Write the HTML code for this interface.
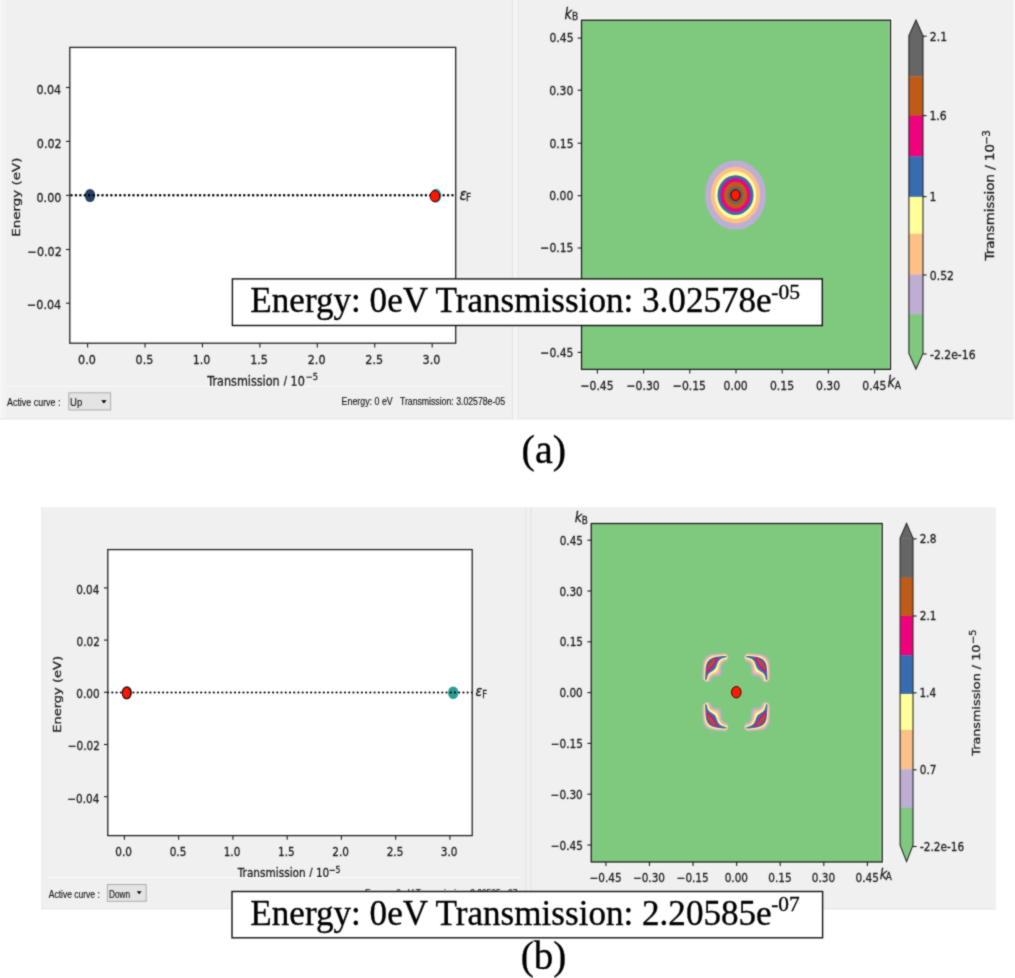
<!DOCTYPE html>
<html><head><meta charset="utf-8"><title>Transmission</title>
<style>html,body{margin:0;padding:0;background:#fff;}svg{display:block;}</style></head>
<body><svg width="1015" height="978" viewBox="0 0 1015 978">
<defs><filter id="soft" x="0" y="0" width="1015" height="978" filterUnits="userSpaceOnUse" color-interpolation-filters="sRGB"><feConvolveMatrix order="3" kernelMatrix="1 2 1 2 12 2 1 2 1" divisor="24" edgeMode="duplicate" preserveAlpha="true"/></filter></defs>
<g filter="url(#soft)">
<rect x="0" y="0" width="1015" height="978" fill="#ffffff"/>
<rect x="0.00" y="0.00" width="1014.00" height="419.30" fill="#f0f0f0"/>
<rect x="0.00" y="0.00" width="1.20" height="419.30" fill="#f8f8f8"/>
<rect x="1.00" y="0.00" width="4.00" height="419.30" fill="#f3f3f3"/>
<line x1="0.00" y1="418.80" x2="1014.00" y2="418.80" stroke="#e4e4e4" stroke-width="1"/>
<line x1="512.40" y1="0.00" x2="512.40" y2="419.30" stroke="#e2e2e2" stroke-width="1"/>
<line x1="518.10" y1="0.00" x2="518.10" y2="419.30" stroke="#e2e2e2" stroke-width="1"/>
<rect x="513.00" y="0.00" width="4.60" height="419.30" fill="#f4f4f4"/>
<rect x="69.80" y="47.40" width="385.90" height="295.80" fill="#ffffff"/>
<line x1="66.00" y1="87.50" x2="69.80" y2="87.50" stroke="#1c1c1c" stroke-width="1.1"/>
<text transform="translate(36.38 93.75) scale(0.8720 1)" font-family="DejaVu Sans, sans-serif" font-style="normal" font-weight="normal" font-size="12.80" fill="#1c1c1c" stroke="#1c1c1c" stroke-width="0.3">0.04</text>
<line x1="66.00" y1="141.40" x2="69.80" y2="141.40" stroke="#1c1c1c" stroke-width="1.1"/>
<text transform="translate(36.83 147.65) scale(0.8720 1)" font-family="DejaVu Sans, sans-serif" font-style="normal" font-weight="normal" font-size="12.80" fill="#1c1c1c" stroke="#1c1c1c" stroke-width="0.3">0.02</text>
<line x1="66.00" y1="195.40" x2="69.80" y2="195.40" stroke="#1c1c1c" stroke-width="1.1"/>
<text transform="translate(36.49 201.65) scale(0.8720 1)" font-family="DejaVu Sans, sans-serif" font-style="normal" font-weight="normal" font-size="12.80" fill="#1c1c1c" stroke="#1c1c1c" stroke-width="0.3">0.00</text>
<line x1="66.00" y1="249.50" x2="69.80" y2="249.50" stroke="#1c1c1c" stroke-width="1.1"/>
<text transform="translate(27.56 255.75) scale(0.8720 1)" font-family="DejaVu Sans, sans-serif" font-style="normal" font-weight="normal" font-size="12.80" fill="#1c1c1c" stroke="#1c1c1c" stroke-width="0.3">−0.02</text>
<line x1="66.00" y1="303.20" x2="69.80" y2="303.20" stroke="#1c1c1c" stroke-width="1.1"/>
<text transform="translate(27.00 309.45) scale(0.8720 1)" font-family="DejaVu Sans, sans-serif" font-style="normal" font-weight="normal" font-size="12.80" fill="#1c1c1c" stroke="#1c1c1c" stroke-width="0.3">−0.04</text>
<line x1="87.60" y1="343.20" x2="87.60" y2="347.40" stroke="#1c1c1c" stroke-width="1.1"/>
<text transform="translate(78.03 363.80) scale(0.8720 1)" font-family="DejaVu Sans, sans-serif" font-style="normal" font-weight="normal" font-size="12.80" fill="#1c1c1c" stroke="#1c1c1c" stroke-width="0.3">0.0</text>
<line x1="145.03" y1="343.20" x2="145.03" y2="347.40" stroke="#1c1c1c" stroke-width="1.1"/>
<text transform="translate(135.57 363.80) scale(0.8720 1)" font-family="DejaVu Sans, sans-serif" font-style="normal" font-weight="normal" font-size="12.80" fill="#1c1c1c" stroke="#1c1c1c" stroke-width="0.3">0.5</text>
<line x1="202.46" y1="343.20" x2="202.46" y2="347.40" stroke="#1c1c1c" stroke-width="1.1"/>
<text transform="translate(192.66 363.80) scale(0.8720 1)" font-family="DejaVu Sans, sans-serif" font-style="normal" font-weight="normal" font-size="12.80" fill="#1c1c1c" stroke="#1c1c1c" stroke-width="0.3">1.0</text>
<line x1="259.89" y1="343.20" x2="259.89" y2="347.40" stroke="#1c1c1c" stroke-width="1.1"/>
<text transform="translate(250.20 363.54) scale(0.8720 1)" font-family="DejaVu Sans, sans-serif" font-style="normal" font-weight="normal" font-size="12.80" fill="#1c1c1c" stroke="#1c1c1c" stroke-width="0.3">1.5</text>
<line x1="317.32" y1="343.20" x2="317.32" y2="347.40" stroke="#1c1c1c" stroke-width="1.1"/>
<text transform="translate(307.75 363.80) scale(0.8720 1)" font-family="DejaVu Sans, sans-serif" font-style="normal" font-weight="normal" font-size="12.80" fill="#1c1c1c" stroke="#1c1c1c" stroke-width="0.3">2.0</text>
<line x1="374.75" y1="343.20" x2="374.75" y2="347.40" stroke="#1c1c1c" stroke-width="1.1"/>
<text transform="translate(365.29 363.67) scale(0.8720 1)" font-family="DejaVu Sans, sans-serif" font-style="normal" font-weight="normal" font-size="12.80" fill="#1c1c1c" stroke="#1c1c1c" stroke-width="0.3">2.5</text>
<line x1="432.18" y1="343.20" x2="432.18" y2="347.40" stroke="#1c1c1c" stroke-width="1.1"/>
<text transform="translate(422.55 363.80) scale(0.8720 1)" font-family="DejaVu Sans, sans-serif" font-style="normal" font-weight="normal" font-size="12.80" fill="#1c1c1c" stroke="#1c1c1c" stroke-width="0.3">3.0</text>
<ellipse cx="90.00" cy="195.50" rx="5.20" ry="6.60" fill="#263f63"/>
<ellipse cx="436.00" cy="195.70" rx="5.30" ry="6.90" fill="#2a9d99"/>
<line x1="71.50" y1="195.30" x2="455.70" y2="195.30" stroke="#000" stroke-width="2.5" stroke-linecap="round" stroke-dasharray="0 4.43"/>
<ellipse cx="434.90" cy="196.20" rx="4.80" ry="5.60" fill="#ff1500" stroke="#3a0000" stroke-width="1.0"/>
<rect x="69.80" y="47.40" width="385.90" height="295.80" fill="none" stroke="#222" stroke-width="1.3"/>
<text transform="translate(459.46 199.76) scale(0.8720 1)" font-family="DejaVu Sans, sans-serif" font-style="italic" font-weight="normal" font-size="15.36" fill="#1c1c1c" stroke="#1c1c1c" stroke-width="0.3">ε</text>
<text transform="translate(465.96 200.90) scale(0.8720 1)" font-family="DejaVu Sans, sans-serif" font-style="normal" font-weight="normal" font-size="10.24" fill="#1c1c1c" stroke="#1c1c1c" stroke-width="0.3">F</text>
<text transform="translate(207.30 385.83) scale(0.8333 1)" font-family="DejaVu Sans, sans-serif" font-style="normal" font-weight="normal" font-size="13.47" fill="#1c1c1c" stroke="#1c1c1c" stroke-width="0.3">Transmission / 10</text>
<text transform="translate(305.77 380.21) scale(0.8720 1)" font-family="DejaVu Sans, sans-serif" font-style="normal" font-weight="normal" font-size="9.47" fill="#1c1c1c" stroke="#1c1c1c" stroke-width="0.3">−5</text>
<rect x="5.00" y="386.20" width="505.00" height="32.10" fill="#f0f0f0"/>
<text transform="translate(20.00 236.74) rotate(-90) scale(1.1925 1)" font-family="DejaVu Sans, sans-serif" font-style="normal" font-size="11.26" fill="#1c1c1c" stroke="#1c1c1c" stroke-width="0.3">Energy (eV)</text>
<line x1="6.40" y1="386.30" x2="504.80" y2="386.30" stroke="#fbfbfb" stroke-width="1.0"/>
<text transform="translate(7.00 406.19) scale(0.8353 1)" font-family="Liberation Sans, sans-serif" font-style="normal" font-weight="normal" font-size="10.68" fill="#141414" stroke="#141414" stroke-width="0.15">Active curve :</text>
<rect x="68.80" y="392.80" width="41.80" height="17.20" fill="#e4e4e4" stroke="#adadad" stroke-width="1"/>
<text transform="translate(70.04 406.10) scale(0.8467 1)" font-family="Liberation Sans, sans-serif" font-style="normal" font-weight="normal" font-size="11.20" fill="#141414" stroke="#141414" stroke-width="0.15">Up</text>
<path d="M101.2 400.2 L106.6 400.2 L103.9 403.4 Z" fill="#000"/>
<text transform="translate(341.59 405.10) scale(0.8054 1)" font-family="Liberation Sans, sans-serif" font-style="normal" font-weight="normal" font-size="11.00" fill="#141414" stroke="#141414" stroke-width="0.15">Energy: 0 eV</text>
<text transform="translate(399.93 405.43) scale(0.7919 1)" font-family="Liberation Sans, sans-serif" font-style="normal" font-weight="normal" font-size="11.00" fill="#141414" stroke="#141414" stroke-width="0.15">Transmission: 3.02578e-05</text>
<rect x="581.50" y="20.20" width="309.00" height="349.20" fill="#7fc97f"/>
<ellipse cx="735.50" cy="195.10" rx="30.40" ry="34.70" fill="#beaed4"/>
<ellipse cx="735.50" cy="195.10" rx="24.70" ry="28.30" fill="#fdc086"/>
<ellipse cx="735.50" cy="195.10" rx="20.80" ry="23.80" fill="#ffff99"/>
<ellipse cx="735.50" cy="195.10" rx="18.00" ry="19.80" fill="#386cb0"/>
<ellipse cx="735.50" cy="195.10" rx="15.00" ry="16.90" fill="#f0027f"/>
<ellipse cx="735.50" cy="195.10" rx="11.70" ry="13.30" fill="#bf5b17"/>
<ellipse cx="735.50" cy="195.10" rx="7.80" ry="8.90" fill="#666666"/>
<ellipse cx="735.50" cy="195.10" rx="4.70" ry="5.40" fill="#ff1a00" stroke="#400000" stroke-width="1.0"/>
<rect x="889.05" y="20.80" width="0.80" height="348.00" fill="#d9e6d9"/>
<rect x="580.00" y="18.60" width="312.20" height="352.10" fill="none" stroke="#ffffff" stroke-width="0.9" opacity="0.75"/>
<rect x="581.50" y="20.20" width="309.00" height="349.20" fill="none" stroke="#1e1e1e" stroke-width="1.3"/>
<line x1="577.70" y1="38.10" x2="581.50" y2="38.10" stroke="#1c1c1c" stroke-width="1.1"/>
<text transform="translate(549.41 42.45) scale(0.8600 1)" font-family="DejaVu Sans, sans-serif" font-style="normal" font-weight="normal" font-size="12.60" fill="#1c1c1c" stroke="#1c1c1c" stroke-width="0.3">0.45</text>
<line x1="577.70" y1="90.20" x2="581.50" y2="90.20" stroke="#1c1c1c" stroke-width="1.1"/>
<text transform="translate(549.19 94.55) scale(0.8600 1)" font-family="DejaVu Sans, sans-serif" font-style="normal" font-weight="normal" font-size="12.60" fill="#1c1c1c" stroke="#1c1c1c" stroke-width="0.3">0.30</text>
<line x1="577.70" y1="143.20" x2="581.50" y2="143.20" stroke="#1c1c1c" stroke-width="1.1"/>
<text transform="translate(549.41 147.55) scale(0.8600 1)" font-family="DejaVu Sans, sans-serif" font-style="normal" font-weight="normal" font-size="12.60" fill="#1c1c1c" stroke="#1c1c1c" stroke-width="0.3">0.15</text>
<line x1="577.70" y1="195.70" x2="581.50" y2="195.70" stroke="#1c1c1c" stroke-width="1.1"/>
<text transform="translate(549.19 200.05) scale(0.8600 1)" font-family="DejaVu Sans, sans-serif" font-style="normal" font-weight="normal" font-size="12.60" fill="#1c1c1c" stroke="#1c1c1c" stroke-width="0.3">0.00</text>
<line x1="577.70" y1="248.00" x2="581.50" y2="248.00" stroke="#1c1c1c" stroke-width="1.1"/>
<text transform="translate(540.31 252.35) scale(0.8600 1)" font-family="DejaVu Sans, sans-serif" font-style="normal" font-weight="normal" font-size="12.60" fill="#1c1c1c" stroke="#1c1c1c" stroke-width="0.3">−0.15</text>
<line x1="577.70" y1="300.20" x2="581.50" y2="300.20" stroke="#1c1c1c" stroke-width="1.1"/>
<text transform="translate(540.09 304.55) scale(0.8600 1)" font-family="DejaVu Sans, sans-serif" font-style="normal" font-weight="normal" font-size="12.60" fill="#1c1c1c" stroke="#1c1c1c" stroke-width="0.3">−0.30</text>
<line x1="577.70" y1="352.40" x2="581.50" y2="352.40" stroke="#1c1c1c" stroke-width="1.1"/>
<text transform="translate(540.31 356.75) scale(0.8600 1)" font-family="DejaVu Sans, sans-serif" font-style="normal" font-weight="normal" font-size="12.60" fill="#1c1c1c" stroke="#1c1c1c" stroke-width="0.3">−0.45</text>
<line x1="597.40" y1="369.40" x2="597.40" y2="373.40" stroke="#1c1c1c" stroke-width="1.1"/>
<text transform="translate(580.41 390.05) scale(0.8600 1)" font-family="DejaVu Sans, sans-serif" font-style="normal" font-weight="normal" font-size="12.60" fill="#1c1c1c" stroke="#1c1c1c" stroke-width="0.3">−0.45</text>
<line x1="643.60" y1="369.40" x2="643.60" y2="373.40" stroke="#1c1c1c" stroke-width="1.1"/>
<text transform="translate(626.50 390.05) scale(0.8600 1)" font-family="DejaVu Sans, sans-serif" font-style="normal" font-weight="normal" font-size="12.60" fill="#1c1c1c" stroke="#1c1c1c" stroke-width="0.3">−0.30</text>
<line x1="689.80" y1="369.40" x2="689.80" y2="373.40" stroke="#1c1c1c" stroke-width="1.1"/>
<text transform="translate(672.81 390.05) scale(0.8600 1)" font-family="DejaVu Sans, sans-serif" font-style="normal" font-weight="normal" font-size="12.60" fill="#1c1c1c" stroke="#1c1c1c" stroke-width="0.3">−0.15</text>
<line x1="736.00" y1="369.40" x2="736.00" y2="373.40" stroke="#1c1c1c" stroke-width="1.1"/>
<text transform="translate(723.62 390.05) scale(0.8600 1)" font-family="DejaVu Sans, sans-serif" font-style="normal" font-weight="normal" font-size="12.60" fill="#1c1c1c" stroke="#1c1c1c" stroke-width="0.3">0.00</text>
<line x1="782.20" y1="369.40" x2="782.20" y2="373.40" stroke="#1c1c1c" stroke-width="1.1"/>
<text transform="translate(769.93 390.05) scale(0.8600 1)" font-family="DejaVu Sans, sans-serif" font-style="normal" font-weight="normal" font-size="12.60" fill="#1c1c1c" stroke="#1c1c1c" stroke-width="0.3">0.15</text>
<line x1="828.40" y1="369.40" x2="828.40" y2="373.40" stroke="#1c1c1c" stroke-width="1.1"/>
<text transform="translate(816.02 390.05) scale(0.8600 1)" font-family="DejaVu Sans, sans-serif" font-style="normal" font-weight="normal" font-size="12.60" fill="#1c1c1c" stroke="#1c1c1c" stroke-width="0.3">0.30</text>
<line x1="874.60" y1="369.40" x2="874.60" y2="373.40" stroke="#1c1c1c" stroke-width="1.1"/>
<text transform="translate(862.33 390.05) scale(0.8600 1)" font-family="DejaVu Sans, sans-serif" font-style="normal" font-weight="normal" font-size="12.60" fill="#1c1c1c" stroke="#1c1c1c" stroke-width="0.3">0.45</text>
<text transform="translate(564.48 18.60) scale(0.8600 1)" font-family="DejaVu Sans, sans-serif" font-style="italic" font-weight="normal" font-size="15.12" fill="#1c1c1c" stroke="#1c1c1c" stroke-width="0.3">k</text>
<text transform="translate(572.05 20.20) scale(0.8600 1)" font-family="DejaVu Sans, sans-serif" font-style="normal" font-weight="normal" font-size="10.58" fill="#1c1c1c" stroke="#1c1c1c" stroke-width="0.3">B</text>
<text transform="translate(887.48 387.19) scale(0.8600 1)" font-family="DejaVu Sans, sans-serif" font-style="italic" font-weight="normal" font-size="15.12" fill="#1c1c1c" stroke="#1c1c1c" stroke-width="0.3">k</text>
<text transform="translate(894.80 388.81) scale(0.8600 1)" font-family="DejaVu Sans, sans-serif" font-style="normal" font-weight="normal" font-size="10.58" fill="#1c1c1c" stroke="#1c1c1c" stroke-width="0.3">A</text>
<path d="M908.90 36.30 L915.95 20.00 L923.00 36.30 Z" fill="#666666"/>
<rect x="908.90" y="35.80" width="14.10" height="40.80" fill="#666666"/>
<rect x="908.90" y="76.30" width="14.10" height="39.70" fill="#bf5b17"/>
<rect x="908.90" y="115.70" width="14.10" height="41.00" fill="#f0027f"/>
<rect x="908.90" y="156.40" width="14.10" height="40.70" fill="#386cb0"/>
<rect x="908.90" y="196.80" width="14.10" height="37.20" fill="#ffff99"/>
<rect x="908.90" y="233.70" width="14.10" height="41.20" fill="#fdc086"/>
<rect x="908.90" y="274.60" width="14.10" height="39.80" fill="#beaed4"/>
<rect x="908.90" y="314.10" width="14.10" height="39.30" fill="#7fc97f"/>
<path d="M908.90 352.90 L915.95 369.10 L923.00 352.90 Z" fill="#7fc97f"/>
<path d="M908.90 35.80 L915.95 20.00 L923.00 35.80 L923.00 353.40 L915.95 369.10 L908.90 353.40 Z" fill="none" stroke="#2a2a2a" stroke-width="1.1" stroke-linejoin="miter"/>
<line x1="923.00" y1="36.20" x2="926.60" y2="36.20" stroke="#1c1c1c" stroke-width="1.1"/>
<text transform="translate(929.84 40.72) scale(0.8600 1)" font-family="DejaVu Sans, sans-serif" font-style="normal" font-weight="normal" font-size="12.60" fill="#1c1c1c" stroke="#1c1c1c" stroke-width="0.3">2.1</text>
<line x1="923.00" y1="115.60" x2="926.60" y2="115.60" stroke="#1c1c1c" stroke-width="1.1"/>
<text transform="translate(929.41 120.12) scale(0.8600 1)" font-family="DejaVu Sans, sans-serif" font-style="normal" font-weight="normal" font-size="12.60" fill="#1c1c1c" stroke="#1c1c1c" stroke-width="0.3">1.6</text>
<line x1="923.00" y1="196.60" x2="926.60" y2="196.60" stroke="#1c1c1c" stroke-width="1.1"/>
<text transform="translate(929.41 201.00) scale(0.8600 1)" font-family="DejaVu Sans, sans-serif" font-style="normal" font-weight="normal" font-size="12.60" fill="#1c1c1c" stroke="#1c1c1c" stroke-width="0.3">1</text>
<line x1="923.00" y1="275.00" x2="926.60" y2="275.00" stroke="#1c1c1c" stroke-width="1.1"/>
<text transform="translate(929.84 279.65) scale(0.8600 1)" font-family="DejaVu Sans, sans-serif" font-style="normal" font-weight="normal" font-size="12.60" fill="#1c1c1c" stroke="#1c1c1c" stroke-width="0.3">0.52</text>
<line x1="923.00" y1="354.00" x2="926.60" y2="354.00" stroke="#1c1c1c" stroke-width="1.1"/>
<text transform="translate(930.06 358.52) scale(0.8600 1)" font-family="DejaVu Sans, sans-serif" font-style="normal" font-weight="normal" font-size="12.60" fill="#1c1c1c" stroke="#1c1c1c" stroke-width="0.3">-2.2e-16</text>
<text transform="translate(993.70 260.50) rotate(-90) scale(1.1339 1)" font-family="DejaVu Sans, sans-serif" font-style="normal" font-size="11.80" fill="#1c1c1c" stroke="#1c1c1c" stroke-width="0.3">Transmission / 10</text>
<text transform="translate(990.10 144.69) rotate(-90) scale(0.9922 1)" font-family="DejaVu Sans, sans-serif" font-style="normal" font-size="10.00" fill="#1c1c1c" stroke="#1c1c1c" stroke-width="0.3">−3</text>
<rect x="232.40" y="278.90" width="589.90" height="46.60" fill="#ffffff" stroke="#111" stroke-width="1.4"/>
<text transform="translate(250.35 312.00) scale(0.9795 1)" font-family="Liberation Serif, serif" font-style="normal" font-weight="normal" font-size="35.85" fill="#000" stroke="#000" stroke-width="0.35">Energy: 0eV Transmission: 3.02578e</text>
<text transform="translate(771.24 298.50) scale(0.9963 1)" font-family="Liberation Serif, serif" font-style="normal" font-weight="normal" font-size="21.60" fill="#000" stroke="#000" stroke-width="0.35">-05</text>
<text transform="translate(521.60 462.92) scale(1.0165 1)" font-family="Liberation Serif, serif" font-style="normal" font-weight="normal" font-size="39.44" fill="#000" stroke="#000" stroke-width="0.35">(a)</text>
<rect x="41.50" y="507.20" width="954.50" height="402.10" fill="#f0f0f0"/>
<line x1="41.50" y1="908.80" x2="996.00" y2="908.80" stroke="#e4e4e4" stroke-width="1"/>
<line x1="42.00" y1="507.20" x2="42.00" y2="909.30" stroke="#e6e6e6" stroke-width="1"/>
<line x1="525.80" y1="507.20" x2="525.80" y2="909.30" stroke="#e2e2e2" stroke-width="1"/>
<line x1="531.00" y1="507.20" x2="531.00" y2="909.30" stroke="#e2e2e2" stroke-width="1"/>
<rect x="107.80" y="549.60" width="364.40" height="286.00" fill="#ffffff"/>
<line x1="104.00" y1="587.90" x2="107.80" y2="587.90" stroke="#1c1c1c" stroke-width="1.1"/>
<text transform="translate(76.13 593.75) scale(0.8600 1)" font-family="DejaVu Sans, sans-serif" font-style="normal" font-weight="normal" font-size="12.20" fill="#1c1c1c" stroke="#1c1c1c" stroke-width="0.3">0.04</text>
<line x1="104.00" y1="640.10" x2="107.80" y2="640.10" stroke="#1c1c1c" stroke-width="1.1"/>
<text transform="translate(76.55 645.95) scale(0.8600 1)" font-family="DejaVu Sans, sans-serif" font-style="normal" font-weight="normal" font-size="12.20" fill="#1c1c1c" stroke="#1c1c1c" stroke-width="0.3">0.02</text>
<line x1="104.00" y1="692.30" x2="107.80" y2="692.30" stroke="#1c1c1c" stroke-width="1.1"/>
<text transform="translate(76.24 698.15) scale(0.8600 1)" font-family="DejaVu Sans, sans-serif" font-style="normal" font-weight="normal" font-size="12.20" fill="#1c1c1c" stroke="#1c1c1c" stroke-width="0.3">0.00</text>
<line x1="104.00" y1="744.50" x2="107.80" y2="744.50" stroke="#1c1c1c" stroke-width="1.1"/>
<text transform="translate(67.84 750.35) scale(0.8600 1)" font-family="DejaVu Sans, sans-serif" font-style="normal" font-weight="normal" font-size="12.20" fill="#1c1c1c" stroke="#1c1c1c" stroke-width="0.3">−0.02</text>
<line x1="104.00" y1="796.70" x2="107.80" y2="796.70" stroke="#1c1c1c" stroke-width="1.1"/>
<text transform="translate(67.32 802.55) scale(0.8600 1)" font-family="DejaVu Sans, sans-serif" font-style="normal" font-weight="normal" font-size="12.20" fill="#1c1c1c" stroke="#1c1c1c" stroke-width="0.3">−0.04</text>
<line x1="124.40" y1="835.60" x2="124.40" y2="839.80" stroke="#1c1c1c" stroke-width="1.1"/>
<text transform="translate(115.36 856.45) scale(0.8600 1)" font-family="DejaVu Sans, sans-serif" font-style="normal" font-weight="normal" font-size="12.20" fill="#1c1c1c" stroke="#1c1c1c" stroke-width="0.3">0.0</text>
<line x1="178.65" y1="835.60" x2="178.65" y2="839.80" stroke="#1c1c1c" stroke-width="1.1"/>
<text transform="translate(169.71 856.45) scale(0.8600 1)" font-family="DejaVu Sans, sans-serif" font-style="normal" font-weight="normal" font-size="12.20" fill="#1c1c1c" stroke="#1c1c1c" stroke-width="0.3">0.5</text>
<line x1="232.90" y1="835.60" x2="232.90" y2="839.80" stroke="#1c1c1c" stroke-width="1.1"/>
<text transform="translate(223.65 856.45) scale(0.8600 1)" font-family="DejaVu Sans, sans-serif" font-style="normal" font-weight="normal" font-size="12.20" fill="#1c1c1c" stroke="#1c1c1c" stroke-width="0.3">1.0</text>
<line x1="287.15" y1="835.60" x2="287.15" y2="839.80" stroke="#1c1c1c" stroke-width="1.1"/>
<text transform="translate(278.00 856.21) scale(0.8600 1)" font-family="DejaVu Sans, sans-serif" font-style="normal" font-weight="normal" font-size="12.20" fill="#1c1c1c" stroke="#1c1c1c" stroke-width="0.3">1.5</text>
<line x1="341.40" y1="835.60" x2="341.40" y2="839.80" stroke="#1c1c1c" stroke-width="1.1"/>
<text transform="translate(332.36 856.45) scale(0.8600 1)" font-family="DejaVu Sans, sans-serif" font-style="normal" font-weight="normal" font-size="12.20" fill="#1c1c1c" stroke="#1c1c1c" stroke-width="0.3">2.0</text>
<line x1="395.65" y1="835.60" x2="395.65" y2="839.80" stroke="#1c1c1c" stroke-width="1.1"/>
<text transform="translate(386.71 856.33) scale(0.8600 1)" font-family="DejaVu Sans, sans-serif" font-style="normal" font-weight="normal" font-size="12.20" fill="#1c1c1c" stroke="#1c1c1c" stroke-width="0.3">2.5</text>
<line x1="449.90" y1="835.60" x2="449.90" y2="839.80" stroke="#1c1c1c" stroke-width="1.1"/>
<text transform="translate(440.81 856.45) scale(0.8600 1)" font-family="DejaVu Sans, sans-serif" font-style="normal" font-weight="normal" font-size="12.20" fill="#1c1c1c" stroke="#1c1c1c" stroke-width="0.3">3.0</text>
<ellipse cx="126.90" cy="692.70" rx="5.00" ry="6.50" fill="#263f63"/>
<ellipse cx="453.20" cy="692.80" rx="5.25" ry="6.30" fill="#2a9d99"/>
<line x1="108.10" y1="692.50" x2="472.20" y2="692.50" stroke="#000" stroke-width="2.2" stroke-linecap="round" stroke-dasharray="0 4.23"/>
<ellipse cx="126.60" cy="693.00" rx="4.30" ry="5.80" fill="#ff1500" stroke="#2a0505" stroke-width="1.1"/>
<rect x="107.80" y="549.60" width="364.40" height="286.00" fill="none" stroke="#222" stroke-width="1.3"/>
<text transform="translate(475.50 696.34) scale(0.8600 1)" font-family="DejaVu Sans, sans-serif" font-style="italic" font-weight="normal" font-size="14.64" fill="#1c1c1c" stroke="#1c1c1c" stroke-width="0.3">ε</text>
<text transform="translate(482.24 698.10) scale(0.8600 1)" font-family="DejaVu Sans, sans-serif" font-style="normal" font-weight="normal" font-size="9.76" fill="#1c1c1c" stroke="#1c1c1c" stroke-width="0.3">F</text>
<text transform="translate(237.70 877.12) scale(0.8521 1)" font-family="DejaVu Sans, sans-serif" font-style="normal" font-weight="normal" font-size="12.36" fill="#1c1c1c" stroke="#1c1c1c" stroke-width="0.3">Transmission / 10</text>
<text transform="translate(329.12 873.09) scale(0.8600 1)" font-family="DejaVu Sans, sans-serif" font-style="normal" font-weight="normal" font-size="9.03" fill="#1c1c1c" stroke="#1c1c1c" stroke-width="0.3">−5</text>
<rect x="42.50" y="877.60" width="479.50" height="30.70" fill="#f0f0f0"/>
<text transform="translate(61.00 732.80) rotate(-90) scale(1.2153 1)" font-family="DejaVu Sans, sans-serif" font-style="normal" font-size="10.74" fill="#1c1c1c" stroke="#1c1c1c" stroke-width="0.3">Energy (eV)</text>
<line x1="48.30" y1="877.60" x2="519.50" y2="877.60" stroke="#fbfbfb" stroke-width="1.0"/>
<text transform="translate(48.70 897.59) scale(0.7791 1)" font-family="Liberation Sans, sans-serif" font-style="normal" font-weight="normal" font-size="10.95" fill="#141414" stroke="#141414" stroke-width="0.15">Active curve :</text>
<rect x="107.40" y="884.50" width="38.80" height="16.80" fill="#e4e4e4" stroke="#adadad" stroke-width="1"/>
<text transform="translate(108.94 897.70) scale(0.7507 1)" font-family="Liberation Sans, sans-serif" font-style="normal" font-weight="normal" font-size="11.00" fill="#141414" stroke="#141414" stroke-width="0.15">Down</text>
<path d="M136.8 891.2 L141.6 891.2 L139.2 894.2 Z" fill="#000"/>
<text transform="translate(364.93 897.14) scale(0.7954 1)" font-family="Liberation Sans, sans-serif" font-style="normal" font-weight="normal" font-size="10.60" fill="#141414" stroke="#141414" stroke-width="0.15">Energy: 0 eV   Transmission: 2.20585e-07</text>
<rect x="591.20" y="523.50" width="291.00" height="338.50" fill="#7fc97f"/>
<g transform="translate(736.3 692.2) scale(1 1)"><path d="M-15.2 -39.0 L-12.0 -39.2 L-11.2 -39.1 L-10.6 -38.9 L-10.0 -38.5 L-9.4 -37.9 L-8.5 -36.6 L-8.1 -35.8 L-8.2 -33.0 L-8.4 -32.2 L-8.6 -31.6 L-9.2 -31.1 L-11.4 -30.2 L-12.6 -29.5 L-13.6 -28.4 L-14.4 -27.0 L-14.8 -25.8 L-15.0 -24.4 L-15.1 -22.6 L-15.2 -19.0 L-15.3 -18.0 L-15.5 -17.4 L-16.0 -16.8 L-16.8 -16.4 L-21.4 -15.9 L-22.6 -15.5 L-23.6 -15.0 L-24.3 -14.4 L-25.0 -13.6 L-25.5 -12.6 L-26.0 -10.8 L-26.4 -10.4 L-26.6 -10.3 L-27.2 -10.1 L-28.2 -10.1 L-30.6 -10.3 L-30.8 -10.4 L-32.1 -11.4 L-33.2 -12.4 L-33.7 -13.2 L-33.9 -14.2 L-33.7 -24.8 L-33.5 -27.6 L-33.3 -29.2 L-32.9 -30.8 L-32.5 -32.0 L-32.0 -33.2 L-31.0 -34.6 L-29.8 -35.8 L-28.4 -36.7 L-26.6 -37.5 L-25.0 -37.9 L-22.8 -38.3 Z" fill="#beaed4"/><path d="M-21.4 -37.3 L-12.0 -38.1 L-11.0 -38.1 L-10.2 -37.8 L-9.4 -37.2 L-8.4 -35.8 L-8.6 -34.0 L-9.0 -33.0 L-9.6 -32.5 L-11.7 -31.8 L-13.0 -31.2 L-14.2 -30.3 L-15.1 -29.2 L-15.8 -27.9 L-16.3 -26.4 L-17.2 -20.6 L-17.5 -19.8 L-18.0 -19.1 L-18.6 -18.7 L-19.2 -18.4 L-22.2 -17.6 L-23.3 -17.2 L-24.2 -16.8 L-25.0 -16.2 L-25.8 -15.4 L-26.4 -14.5 L-26.8 -13.4 L-27.4 -11.4 L-27.8 -10.9 L-28.2 -10.7 L-29.0 -10.6 L-30.6 -10.7 L-30.8 -10.8 L-31.8 -11.6 L-32.5 -12.4 L-32.8 -13.2 L-32.9 -14.4 L-32.6 -24.0 L-32.4 -27.0 L-32.1 -28.6 L-31.7 -30.0 L-31.3 -31.2 L-30.6 -32.4 L-29.6 -33.8 L-28.5 -34.8 L-27.0 -35.7 L-25.4 -36.4 L-23.6 -36.9 Z" fill="#fdc086"/><path d="M-19.6 -36.5 L-11.4 -37.2 L-10.6 -37.2 L-10.0 -36.9 L-9.4 -36.5 L-8.8 -35.8 L-9.0 -34.9 L-9.3 -34.2 L-9.6 -33.9 L-10.0 -33.7 L-12.4 -33.0 L-13.6 -32.5 L-14.7 -31.8 L-15.6 -31.0 L-16.5 -29.8 L-17.2 -28.4 L-17.8 -26.7 L-18.7 -23.0 L-19.0 -22.2 L-19.5 -21.4 L-20.0 -20.8 L-20.8 -20.2 L-24.4 -18.6 L-25.2 -18.1 L-26.0 -17.5 L-26.8 -16.6 L-27.5 -15.4 L-28.0 -14.2 L-28.5 -12.2 L-28.7 -11.6 L-29.0 -11.3 L-29.4 -11.2 L-30.6 -11.0 L-31.2 -11.6 L-31.7 -12.2 L-31.9 -12.8 L-32.0 -13.4 L-31.7 -23.2 L-31.4 -26.0 L-31.0 -28.4 L-30.3 -30.2 L-29.4 -31.8 L-28.4 -33.0 L-27.2 -34.0 L-25.8 -34.9 L-24.0 -35.6 L-22.0 -36.1 Z" fill="#ffff99"/><path d="M-13.4 -36.2 L-10.8 -36.3 L-10.0 -36.2 L-9.4 -35.8 L-9.8 -35.2 L-10.2 -35.0 L-13.2 -34.1 L-15.0 -33.4 L-16.2 -32.6 L-17.2 -31.6 L-18.0 -30.6 L-18.6 -29.4 L-20.3 -25.0 L-21.0 -23.6 L-21.6 -22.9 L-22.3 -22.2 L-26.0 -19.8 L-26.8 -19.2 L-27.6 -18.3 L-28.3 -17.2 L-28.8 -16.0 L-29.8 -12.2 L-30.1 -11.8 L-30.6 -11.6 L-31.0 -12.4 L-31.2 -13.6 L-30.8 -21.0 L-30.6 -24.0 L-30.3 -26.0 L-29.9 -27.8 L-29.3 -29.4 L-28.5 -30.8 L-27.5 -32.0 L-26.4 -33.0 L-25.0 -33.8 L-23.4 -34.5 L-21.4 -35.1 L-19.4 -35.5 Z" fill="#386cb0"/><path d="M-16.3 -34.8 L-16.0 -34.8 L-15.9 -34.8 L-16.2 -34.7 Z M-17.6 -34.6 L-16.4 -34.7 L-16.3 -34.6 L-17.8 -33.6 L-19.2 -32.2 L-20.4 -30.6 L-22.2 -27.0 L-23.2 -25.5 L-24.3 -24.2 L-27.0 -21.9 L-28.0 -20.9 L-29.0 -19.6 L-29.8 -18.0 L-29.9 -18.6 L-29.8 -21.4 L-29.5 -23.6 L-29.2 -25.2 L-28.9 -26.6 L-28.5 -27.8 L-27.9 -29.0 L-27.2 -30.0 L-26.4 -31.0 L-25.6 -31.7 L-24.6 -32.4 L-23.6 -32.9 L-21.0 -33.9 Z" fill="#f0027f"/><path d="M-22.4 -32.5 L-20.2 -33.3 L-20.0 -33.2 L-21.5 -31.4 L-23.5 -28.0 L-24.4 -26.8 L-25.4 -25.6 L-27.8 -23.2 L-29.0 -21.8 L-29.0 -22.0 L-28.8 -23.8 L-28.2 -26.0 L-27.5 -27.8 L-26.6 -29.4 L-25.4 -30.7 L-24.0 -31.7 Z" fill="#bf5b17"/><path d="M-22.2 -32.1 L-22.1 -32.0 L-25.0 -27.7 L-26.1 -26.4 L-28.2 -24.1 L-28.0 -25.0 L-27.5 -26.6 L-26.9 -27.8 L-26.2 -29.0 L-25.3 -30.0 L-24.4 -30.8 L-23.4 -31.5 Z" fill="#666666"/></g>
<g transform="translate(736.3 692.2) scale(-1 1)"><path d="M-15.2 -39.0 L-12.0 -39.2 L-11.2 -39.1 L-10.6 -38.9 L-10.0 -38.5 L-9.4 -37.9 L-8.5 -36.6 L-8.1 -35.8 L-8.2 -33.0 L-8.4 -32.2 L-8.6 -31.6 L-9.2 -31.1 L-11.4 -30.2 L-12.6 -29.5 L-13.6 -28.4 L-14.4 -27.0 L-14.8 -25.8 L-15.0 -24.4 L-15.1 -22.6 L-15.2 -19.0 L-15.3 -18.0 L-15.5 -17.4 L-16.0 -16.8 L-16.8 -16.4 L-21.4 -15.9 L-22.6 -15.5 L-23.6 -15.0 L-24.3 -14.4 L-25.0 -13.6 L-25.5 -12.6 L-26.0 -10.8 L-26.4 -10.4 L-26.6 -10.3 L-27.2 -10.1 L-28.2 -10.1 L-30.6 -10.3 L-30.8 -10.4 L-32.1 -11.4 L-33.2 -12.4 L-33.7 -13.2 L-33.9 -14.2 L-33.7 -24.8 L-33.5 -27.6 L-33.3 -29.2 L-32.9 -30.8 L-32.5 -32.0 L-32.0 -33.2 L-31.0 -34.6 L-29.8 -35.8 L-28.4 -36.7 L-26.6 -37.5 L-25.0 -37.9 L-22.8 -38.3 Z" fill="#beaed4"/><path d="M-21.4 -37.3 L-12.0 -38.1 L-11.0 -38.1 L-10.2 -37.8 L-9.4 -37.2 L-8.4 -35.8 L-8.6 -34.0 L-9.0 -33.0 L-9.6 -32.5 L-11.7 -31.8 L-13.0 -31.2 L-14.2 -30.3 L-15.1 -29.2 L-15.8 -27.9 L-16.3 -26.4 L-17.2 -20.6 L-17.5 -19.8 L-18.0 -19.1 L-18.6 -18.7 L-19.2 -18.4 L-22.2 -17.6 L-23.3 -17.2 L-24.2 -16.8 L-25.0 -16.2 L-25.8 -15.4 L-26.4 -14.5 L-26.8 -13.4 L-27.4 -11.4 L-27.8 -10.9 L-28.2 -10.7 L-29.0 -10.6 L-30.6 -10.7 L-30.8 -10.8 L-31.8 -11.6 L-32.5 -12.4 L-32.8 -13.2 L-32.9 -14.4 L-32.6 -24.0 L-32.4 -27.0 L-32.1 -28.6 L-31.7 -30.0 L-31.3 -31.2 L-30.6 -32.4 L-29.6 -33.8 L-28.5 -34.8 L-27.0 -35.7 L-25.4 -36.4 L-23.6 -36.9 Z" fill="#fdc086"/><path d="M-19.6 -36.5 L-11.4 -37.2 L-10.6 -37.2 L-10.0 -36.9 L-9.4 -36.5 L-8.8 -35.8 L-9.0 -34.9 L-9.3 -34.2 L-9.6 -33.9 L-10.0 -33.7 L-12.4 -33.0 L-13.6 -32.5 L-14.7 -31.8 L-15.6 -31.0 L-16.5 -29.8 L-17.2 -28.4 L-17.8 -26.7 L-18.7 -23.0 L-19.0 -22.2 L-19.5 -21.4 L-20.0 -20.8 L-20.8 -20.2 L-24.4 -18.6 L-25.2 -18.1 L-26.0 -17.5 L-26.8 -16.6 L-27.5 -15.4 L-28.0 -14.2 L-28.5 -12.2 L-28.7 -11.6 L-29.0 -11.3 L-29.4 -11.2 L-30.6 -11.0 L-31.2 -11.6 L-31.7 -12.2 L-31.9 -12.8 L-32.0 -13.4 L-31.7 -23.2 L-31.4 -26.0 L-31.0 -28.4 L-30.3 -30.2 L-29.4 -31.8 L-28.4 -33.0 L-27.2 -34.0 L-25.8 -34.9 L-24.0 -35.6 L-22.0 -36.1 Z" fill="#ffff99"/><path d="M-13.4 -36.2 L-10.8 -36.3 L-10.0 -36.2 L-9.4 -35.8 L-9.8 -35.2 L-10.2 -35.0 L-13.2 -34.1 L-15.0 -33.4 L-16.2 -32.6 L-17.2 -31.6 L-18.0 -30.6 L-18.6 -29.4 L-20.3 -25.0 L-21.0 -23.6 L-21.6 -22.9 L-22.3 -22.2 L-26.0 -19.8 L-26.8 -19.2 L-27.6 -18.3 L-28.3 -17.2 L-28.8 -16.0 L-29.8 -12.2 L-30.1 -11.8 L-30.6 -11.6 L-31.0 -12.4 L-31.2 -13.6 L-30.8 -21.0 L-30.6 -24.0 L-30.3 -26.0 L-29.9 -27.8 L-29.3 -29.4 L-28.5 -30.8 L-27.5 -32.0 L-26.4 -33.0 L-25.0 -33.8 L-23.4 -34.5 L-21.4 -35.1 L-19.4 -35.5 Z" fill="#386cb0"/><path d="M-16.3 -34.8 L-16.0 -34.8 L-15.9 -34.8 L-16.2 -34.7 Z M-17.6 -34.6 L-16.4 -34.7 L-16.3 -34.6 L-17.8 -33.6 L-19.2 -32.2 L-20.4 -30.6 L-22.2 -27.0 L-23.2 -25.5 L-24.3 -24.2 L-27.0 -21.9 L-28.0 -20.9 L-29.0 -19.6 L-29.8 -18.0 L-29.9 -18.6 L-29.8 -21.4 L-29.5 -23.6 L-29.2 -25.2 L-28.9 -26.6 L-28.5 -27.8 L-27.9 -29.0 L-27.2 -30.0 L-26.4 -31.0 L-25.6 -31.7 L-24.6 -32.4 L-23.6 -32.9 L-21.0 -33.9 Z" fill="#f0027f"/><path d="M-22.4 -32.5 L-20.2 -33.3 L-20.0 -33.2 L-21.5 -31.4 L-23.5 -28.0 L-24.4 -26.8 L-25.4 -25.6 L-27.8 -23.2 L-29.0 -21.8 L-29.0 -22.0 L-28.8 -23.8 L-28.2 -26.0 L-27.5 -27.8 L-26.6 -29.4 L-25.4 -30.7 L-24.0 -31.7 Z" fill="#bf5b17"/><path d="M-22.2 -32.1 L-22.1 -32.0 L-25.0 -27.7 L-26.1 -26.4 L-28.2 -24.1 L-28.0 -25.0 L-27.5 -26.6 L-26.9 -27.8 L-26.2 -29.0 L-25.3 -30.0 L-24.4 -30.8 L-23.4 -31.5 Z" fill="#666666"/></g>
<g transform="translate(736.3 692.2) scale(1 -1)"><path d="M-15.2 -39.0 L-12.0 -39.2 L-11.2 -39.1 L-10.6 -38.9 L-10.0 -38.5 L-9.4 -37.9 L-8.5 -36.6 L-8.1 -35.8 L-8.2 -33.0 L-8.4 -32.2 L-8.6 -31.6 L-9.2 -31.1 L-11.4 -30.2 L-12.6 -29.5 L-13.6 -28.4 L-14.4 -27.0 L-14.8 -25.8 L-15.0 -24.4 L-15.1 -22.6 L-15.2 -19.0 L-15.3 -18.0 L-15.5 -17.4 L-16.0 -16.8 L-16.8 -16.4 L-21.4 -15.9 L-22.6 -15.5 L-23.6 -15.0 L-24.3 -14.4 L-25.0 -13.6 L-25.5 -12.6 L-26.0 -10.8 L-26.4 -10.4 L-26.6 -10.3 L-27.2 -10.1 L-28.2 -10.1 L-30.6 -10.3 L-30.8 -10.4 L-32.1 -11.4 L-33.2 -12.4 L-33.7 -13.2 L-33.9 -14.2 L-33.7 -24.8 L-33.5 -27.6 L-33.3 -29.2 L-32.9 -30.8 L-32.5 -32.0 L-32.0 -33.2 L-31.0 -34.6 L-29.8 -35.8 L-28.4 -36.7 L-26.6 -37.5 L-25.0 -37.9 L-22.8 -38.3 Z" fill="#beaed4"/><path d="M-21.4 -37.3 L-12.0 -38.1 L-11.0 -38.1 L-10.2 -37.8 L-9.4 -37.2 L-8.4 -35.8 L-8.6 -34.0 L-9.0 -33.0 L-9.6 -32.5 L-11.7 -31.8 L-13.0 -31.2 L-14.2 -30.3 L-15.1 -29.2 L-15.8 -27.9 L-16.3 -26.4 L-17.2 -20.6 L-17.5 -19.8 L-18.0 -19.1 L-18.6 -18.7 L-19.2 -18.4 L-22.2 -17.6 L-23.3 -17.2 L-24.2 -16.8 L-25.0 -16.2 L-25.8 -15.4 L-26.4 -14.5 L-26.8 -13.4 L-27.4 -11.4 L-27.8 -10.9 L-28.2 -10.7 L-29.0 -10.6 L-30.6 -10.7 L-30.8 -10.8 L-31.8 -11.6 L-32.5 -12.4 L-32.8 -13.2 L-32.9 -14.4 L-32.6 -24.0 L-32.4 -27.0 L-32.1 -28.6 L-31.7 -30.0 L-31.3 -31.2 L-30.6 -32.4 L-29.6 -33.8 L-28.5 -34.8 L-27.0 -35.7 L-25.4 -36.4 L-23.6 -36.9 Z" fill="#fdc086"/><path d="M-19.6 -36.5 L-11.4 -37.2 L-10.6 -37.2 L-10.0 -36.9 L-9.4 -36.5 L-8.8 -35.8 L-9.0 -34.9 L-9.3 -34.2 L-9.6 -33.9 L-10.0 -33.7 L-12.4 -33.0 L-13.6 -32.5 L-14.7 -31.8 L-15.6 -31.0 L-16.5 -29.8 L-17.2 -28.4 L-17.8 -26.7 L-18.7 -23.0 L-19.0 -22.2 L-19.5 -21.4 L-20.0 -20.8 L-20.8 -20.2 L-24.4 -18.6 L-25.2 -18.1 L-26.0 -17.5 L-26.8 -16.6 L-27.5 -15.4 L-28.0 -14.2 L-28.5 -12.2 L-28.7 -11.6 L-29.0 -11.3 L-29.4 -11.2 L-30.6 -11.0 L-31.2 -11.6 L-31.7 -12.2 L-31.9 -12.8 L-32.0 -13.4 L-31.7 -23.2 L-31.4 -26.0 L-31.0 -28.4 L-30.3 -30.2 L-29.4 -31.8 L-28.4 -33.0 L-27.2 -34.0 L-25.8 -34.9 L-24.0 -35.6 L-22.0 -36.1 Z" fill="#ffff99"/><path d="M-13.4 -36.2 L-10.8 -36.3 L-10.0 -36.2 L-9.4 -35.8 L-9.8 -35.2 L-10.2 -35.0 L-13.2 -34.1 L-15.0 -33.4 L-16.2 -32.6 L-17.2 -31.6 L-18.0 -30.6 L-18.6 -29.4 L-20.3 -25.0 L-21.0 -23.6 L-21.6 -22.9 L-22.3 -22.2 L-26.0 -19.8 L-26.8 -19.2 L-27.6 -18.3 L-28.3 -17.2 L-28.8 -16.0 L-29.8 -12.2 L-30.1 -11.8 L-30.6 -11.6 L-31.0 -12.4 L-31.2 -13.6 L-30.8 -21.0 L-30.6 -24.0 L-30.3 -26.0 L-29.9 -27.8 L-29.3 -29.4 L-28.5 -30.8 L-27.5 -32.0 L-26.4 -33.0 L-25.0 -33.8 L-23.4 -34.5 L-21.4 -35.1 L-19.4 -35.5 Z" fill="#386cb0"/><path d="M-16.3 -34.8 L-16.0 -34.8 L-15.9 -34.8 L-16.2 -34.7 Z M-17.6 -34.6 L-16.4 -34.7 L-16.3 -34.6 L-17.8 -33.6 L-19.2 -32.2 L-20.4 -30.6 L-22.2 -27.0 L-23.2 -25.5 L-24.3 -24.2 L-27.0 -21.9 L-28.0 -20.9 L-29.0 -19.6 L-29.8 -18.0 L-29.9 -18.6 L-29.8 -21.4 L-29.5 -23.6 L-29.2 -25.2 L-28.9 -26.6 L-28.5 -27.8 L-27.9 -29.0 L-27.2 -30.0 L-26.4 -31.0 L-25.6 -31.7 L-24.6 -32.4 L-23.6 -32.9 L-21.0 -33.9 Z" fill="#f0027f"/><path d="M-22.4 -32.5 L-20.2 -33.3 L-20.0 -33.2 L-21.5 -31.4 L-23.5 -28.0 L-24.4 -26.8 L-25.4 -25.6 L-27.8 -23.2 L-29.0 -21.8 L-29.0 -22.0 L-28.8 -23.8 L-28.2 -26.0 L-27.5 -27.8 L-26.6 -29.4 L-25.4 -30.7 L-24.0 -31.7 Z" fill="#bf5b17"/><path d="M-22.2 -32.1 L-22.1 -32.0 L-25.0 -27.7 L-26.1 -26.4 L-28.2 -24.1 L-28.0 -25.0 L-27.5 -26.6 L-26.9 -27.8 L-26.2 -29.0 L-25.3 -30.0 L-24.4 -30.8 L-23.4 -31.5 Z" fill="#666666"/></g>
<g transform="translate(736.3 692.2) scale(-1 -1)"><path d="M-15.2 -39.0 L-12.0 -39.2 L-11.2 -39.1 L-10.6 -38.9 L-10.0 -38.5 L-9.4 -37.9 L-8.5 -36.6 L-8.1 -35.8 L-8.2 -33.0 L-8.4 -32.2 L-8.6 -31.6 L-9.2 -31.1 L-11.4 -30.2 L-12.6 -29.5 L-13.6 -28.4 L-14.4 -27.0 L-14.8 -25.8 L-15.0 -24.4 L-15.1 -22.6 L-15.2 -19.0 L-15.3 -18.0 L-15.5 -17.4 L-16.0 -16.8 L-16.8 -16.4 L-21.4 -15.9 L-22.6 -15.5 L-23.6 -15.0 L-24.3 -14.4 L-25.0 -13.6 L-25.5 -12.6 L-26.0 -10.8 L-26.4 -10.4 L-26.6 -10.3 L-27.2 -10.1 L-28.2 -10.1 L-30.6 -10.3 L-30.8 -10.4 L-32.1 -11.4 L-33.2 -12.4 L-33.7 -13.2 L-33.9 -14.2 L-33.7 -24.8 L-33.5 -27.6 L-33.3 -29.2 L-32.9 -30.8 L-32.5 -32.0 L-32.0 -33.2 L-31.0 -34.6 L-29.8 -35.8 L-28.4 -36.7 L-26.6 -37.5 L-25.0 -37.9 L-22.8 -38.3 Z" fill="#beaed4"/><path d="M-21.4 -37.3 L-12.0 -38.1 L-11.0 -38.1 L-10.2 -37.8 L-9.4 -37.2 L-8.4 -35.8 L-8.6 -34.0 L-9.0 -33.0 L-9.6 -32.5 L-11.7 -31.8 L-13.0 -31.2 L-14.2 -30.3 L-15.1 -29.2 L-15.8 -27.9 L-16.3 -26.4 L-17.2 -20.6 L-17.5 -19.8 L-18.0 -19.1 L-18.6 -18.7 L-19.2 -18.4 L-22.2 -17.6 L-23.3 -17.2 L-24.2 -16.8 L-25.0 -16.2 L-25.8 -15.4 L-26.4 -14.5 L-26.8 -13.4 L-27.4 -11.4 L-27.8 -10.9 L-28.2 -10.7 L-29.0 -10.6 L-30.6 -10.7 L-30.8 -10.8 L-31.8 -11.6 L-32.5 -12.4 L-32.8 -13.2 L-32.9 -14.4 L-32.6 -24.0 L-32.4 -27.0 L-32.1 -28.6 L-31.7 -30.0 L-31.3 -31.2 L-30.6 -32.4 L-29.6 -33.8 L-28.5 -34.8 L-27.0 -35.7 L-25.4 -36.4 L-23.6 -36.9 Z" fill="#fdc086"/><path d="M-19.6 -36.5 L-11.4 -37.2 L-10.6 -37.2 L-10.0 -36.9 L-9.4 -36.5 L-8.8 -35.8 L-9.0 -34.9 L-9.3 -34.2 L-9.6 -33.9 L-10.0 -33.7 L-12.4 -33.0 L-13.6 -32.5 L-14.7 -31.8 L-15.6 -31.0 L-16.5 -29.8 L-17.2 -28.4 L-17.8 -26.7 L-18.7 -23.0 L-19.0 -22.2 L-19.5 -21.4 L-20.0 -20.8 L-20.8 -20.2 L-24.4 -18.6 L-25.2 -18.1 L-26.0 -17.5 L-26.8 -16.6 L-27.5 -15.4 L-28.0 -14.2 L-28.5 -12.2 L-28.7 -11.6 L-29.0 -11.3 L-29.4 -11.2 L-30.6 -11.0 L-31.2 -11.6 L-31.7 -12.2 L-31.9 -12.8 L-32.0 -13.4 L-31.7 -23.2 L-31.4 -26.0 L-31.0 -28.4 L-30.3 -30.2 L-29.4 -31.8 L-28.4 -33.0 L-27.2 -34.0 L-25.8 -34.9 L-24.0 -35.6 L-22.0 -36.1 Z" fill="#ffff99"/><path d="M-13.4 -36.2 L-10.8 -36.3 L-10.0 -36.2 L-9.4 -35.8 L-9.8 -35.2 L-10.2 -35.0 L-13.2 -34.1 L-15.0 -33.4 L-16.2 -32.6 L-17.2 -31.6 L-18.0 -30.6 L-18.6 -29.4 L-20.3 -25.0 L-21.0 -23.6 L-21.6 -22.9 L-22.3 -22.2 L-26.0 -19.8 L-26.8 -19.2 L-27.6 -18.3 L-28.3 -17.2 L-28.8 -16.0 L-29.8 -12.2 L-30.1 -11.8 L-30.6 -11.6 L-31.0 -12.4 L-31.2 -13.6 L-30.8 -21.0 L-30.6 -24.0 L-30.3 -26.0 L-29.9 -27.8 L-29.3 -29.4 L-28.5 -30.8 L-27.5 -32.0 L-26.4 -33.0 L-25.0 -33.8 L-23.4 -34.5 L-21.4 -35.1 L-19.4 -35.5 Z" fill="#386cb0"/><path d="M-16.3 -34.8 L-16.0 -34.8 L-15.9 -34.8 L-16.2 -34.7 Z M-17.6 -34.6 L-16.4 -34.7 L-16.3 -34.6 L-17.8 -33.6 L-19.2 -32.2 L-20.4 -30.6 L-22.2 -27.0 L-23.2 -25.5 L-24.3 -24.2 L-27.0 -21.9 L-28.0 -20.9 L-29.0 -19.6 L-29.8 -18.0 L-29.9 -18.6 L-29.8 -21.4 L-29.5 -23.6 L-29.2 -25.2 L-28.9 -26.6 L-28.5 -27.8 L-27.9 -29.0 L-27.2 -30.0 L-26.4 -31.0 L-25.6 -31.7 L-24.6 -32.4 L-23.6 -32.9 L-21.0 -33.9 Z" fill="#f0027f"/><path d="M-22.4 -32.5 L-20.2 -33.3 L-20.0 -33.2 L-21.5 -31.4 L-23.5 -28.0 L-24.4 -26.8 L-25.4 -25.6 L-27.8 -23.2 L-29.0 -21.8 L-29.0 -22.0 L-28.8 -23.8 L-28.2 -26.0 L-27.5 -27.8 L-26.6 -29.4 L-25.4 -30.7 L-24.0 -31.7 Z" fill="#bf5b17"/><path d="M-22.2 -32.1 L-22.1 -32.0 L-25.0 -27.7 L-26.1 -26.4 L-28.2 -24.1 L-28.0 -25.0 L-27.5 -26.6 L-26.9 -27.8 L-26.2 -29.0 L-25.3 -30.0 L-24.4 -30.8 L-23.4 -31.5 Z" fill="#666666"/></g>
<ellipse cx="736.30" cy="692.20" rx="4.80" ry="5.70" fill="#ff1a00" stroke="#400000" stroke-width="1.0"/>
<rect x="880.75" y="524.10" width="0.80" height="337.30" fill="#d9e6d9"/>
<rect x="589.70" y="521.90" width="294.20" height="341.40" fill="none" stroke="#ffffff" stroke-width="0.9" opacity="0.75"/>
<rect x="591.20" y="523.50" width="291.00" height="338.50" fill="none" stroke="#1e1e1e" stroke-width="1.3"/>
<line x1="587.40" y1="540.20" x2="591.20" y2="540.20" stroke="#1c1c1c" stroke-width="1.1"/>
<text transform="translate(559.65 544.75) scale(0.8600 1)" font-family="DejaVu Sans, sans-serif" font-style="normal" font-weight="normal" font-size="12.20" fill="#1c1c1c" stroke="#1c1c1c" stroke-width="0.3">0.45</text>
<line x1="587.40" y1="591.00" x2="591.20" y2="591.00" stroke="#1c1c1c" stroke-width="1.1"/>
<text transform="translate(559.44 595.55) scale(0.8600 1)" font-family="DejaVu Sans, sans-serif" font-style="normal" font-weight="normal" font-size="12.20" fill="#1c1c1c" stroke="#1c1c1c" stroke-width="0.3">0.30</text>
<line x1="587.40" y1="641.80" x2="591.20" y2="641.80" stroke="#1c1c1c" stroke-width="1.1"/>
<text transform="translate(559.65 646.35) scale(0.8600 1)" font-family="DejaVu Sans, sans-serif" font-style="normal" font-weight="normal" font-size="12.20" fill="#1c1c1c" stroke="#1c1c1c" stroke-width="0.3">0.15</text>
<line x1="587.40" y1="692.60" x2="591.20" y2="692.60" stroke="#1c1c1c" stroke-width="1.1"/>
<text transform="translate(559.44 697.15) scale(0.8600 1)" font-family="DejaVu Sans, sans-serif" font-style="normal" font-weight="normal" font-size="12.20" fill="#1c1c1c" stroke="#1c1c1c" stroke-width="0.3">0.00</text>
<line x1="587.40" y1="743.40" x2="591.20" y2="743.40" stroke="#1c1c1c" stroke-width="1.1"/>
<text transform="translate(550.83 747.95) scale(0.8600 1)" font-family="DejaVu Sans, sans-serif" font-style="normal" font-weight="normal" font-size="12.20" fill="#1c1c1c" stroke="#1c1c1c" stroke-width="0.3">−0.15</text>
<line x1="587.40" y1="794.20" x2="591.20" y2="794.20" stroke="#1c1c1c" stroke-width="1.1"/>
<text transform="translate(550.62 798.75) scale(0.8600 1)" font-family="DejaVu Sans, sans-serif" font-style="normal" font-weight="normal" font-size="12.20" fill="#1c1c1c" stroke="#1c1c1c" stroke-width="0.3">−0.30</text>
<line x1="587.40" y1="845.00" x2="591.20" y2="845.00" stroke="#1c1c1c" stroke-width="1.1"/>
<text transform="translate(550.83 849.55) scale(0.8600 1)" font-family="DejaVu Sans, sans-serif" font-style="normal" font-weight="normal" font-size="12.20" fill="#1c1c1c" stroke="#1c1c1c" stroke-width="0.3">−0.45</text>
<line x1="605.90" y1="862.00" x2="605.90" y2="866.00" stroke="#1c1c1c" stroke-width="1.1"/>
<text transform="translate(589.44 881.75) scale(0.8600 1)" font-family="DejaVu Sans, sans-serif" font-style="normal" font-weight="normal" font-size="12.20" fill="#1c1c1c" stroke="#1c1c1c" stroke-width="0.3">−0.45</text>
<line x1="649.48" y1="862.00" x2="649.48" y2="866.00" stroke="#1c1c1c" stroke-width="1.1"/>
<text transform="translate(632.92 881.75) scale(0.8600 1)" font-family="DejaVu Sans, sans-serif" font-style="normal" font-weight="normal" font-size="12.20" fill="#1c1c1c" stroke="#1c1c1c" stroke-width="0.3">−0.30</text>
<line x1="693.06" y1="862.00" x2="693.06" y2="866.00" stroke="#1c1c1c" stroke-width="1.1"/>
<text transform="translate(676.60 881.75) scale(0.8600 1)" font-family="DejaVu Sans, sans-serif" font-style="normal" font-weight="normal" font-size="12.20" fill="#1c1c1c" stroke="#1c1c1c" stroke-width="0.3">−0.15</text>
<line x1="736.64" y1="862.00" x2="736.64" y2="866.00" stroke="#1c1c1c" stroke-width="1.1"/>
<text transform="translate(724.64 881.75) scale(0.8600 1)" font-family="DejaVu Sans, sans-serif" font-style="normal" font-weight="normal" font-size="12.20" fill="#1c1c1c" stroke="#1c1c1c" stroke-width="0.3">0.00</text>
<line x1="780.22" y1="862.00" x2="780.22" y2="866.00" stroke="#1c1c1c" stroke-width="1.1"/>
<text transform="translate(768.33 881.75) scale(0.8600 1)" font-family="DejaVu Sans, sans-serif" font-style="normal" font-weight="normal" font-size="12.20" fill="#1c1c1c" stroke="#1c1c1c" stroke-width="0.3">0.15</text>
<line x1="823.80" y1="862.00" x2="823.80" y2="866.00" stroke="#1c1c1c" stroke-width="1.1"/>
<text transform="translate(811.80 881.75) scale(0.8600 1)" font-family="DejaVu Sans, sans-serif" font-style="normal" font-weight="normal" font-size="12.20" fill="#1c1c1c" stroke="#1c1c1c" stroke-width="0.3">0.30</text>
<line x1="867.38" y1="862.00" x2="867.38" y2="866.00" stroke="#1c1c1c" stroke-width="1.1"/>
<text transform="translate(855.49 881.75) scale(0.8600 1)" font-family="DejaVu Sans, sans-serif" font-style="normal" font-weight="normal" font-size="12.20" fill="#1c1c1c" stroke="#1c1c1c" stroke-width="0.3">0.45</text>
<text transform="translate(574.70 522.40) scale(0.8600 1)" font-family="DejaVu Sans, sans-serif" font-style="italic" font-weight="normal" font-size="14.64" fill="#1c1c1c" stroke="#1c1c1c" stroke-width="0.3">k</text>
<text transform="translate(581.82 523.70) scale(0.8600 1)" font-family="DejaVu Sans, sans-serif" font-style="normal" font-weight="normal" font-size="10.25" fill="#1c1c1c" stroke="#1c1c1c" stroke-width="0.3">B</text>
<text transform="translate(879.70 879.43) scale(0.8600 1)" font-family="DejaVu Sans, sans-serif" font-style="italic" font-weight="normal" font-size="14.64" fill="#1c1c1c" stroke="#1c1c1c" stroke-width="0.3">k</text>
<text transform="translate(885.70 879.60) scale(0.8600 1)" font-family="DejaVu Sans, sans-serif" font-style="normal" font-weight="normal" font-size="10.25" fill="#1c1c1c" stroke="#1c1c1c" stroke-width="0.3">A</text>
<path d="M900.10 538.80 L906.55 523.30 L913.00 538.80 Z" fill="#666666"/>
<rect x="900.10" y="538.30" width="12.90" height="39.60" fill="#666666"/>
<rect x="900.10" y="577.60" width="12.90" height="38.70" fill="#bf5b17"/>
<rect x="900.10" y="616.00" width="12.90" height="39.50" fill="#f0027f"/>
<rect x="900.10" y="655.20" width="12.90" height="39.00" fill="#386cb0"/>
<rect x="900.10" y="693.90" width="12.90" height="36.20" fill="#ffff99"/>
<rect x="900.10" y="729.80" width="12.90" height="39.70" fill="#fdc086"/>
<rect x="900.10" y="769.20" width="12.90" height="39.00" fill="#beaed4"/>
<rect x="900.10" y="807.90" width="12.90" height="37.30" fill="#7fc97f"/>
<path d="M900.10 844.70 L906.55 861.50 L913.00 844.70 Z" fill="#7fc97f"/>
<path d="M900.10 538.30 L906.55 523.30 L913.00 538.30 L913.00 845.20 L906.55 861.50 L900.10 845.20 Z" fill="none" stroke="#2a2a2a" stroke-width="1.1" stroke-linejoin="miter"/>
<line x1="913.00" y1="538.80" x2="916.60" y2="538.80" stroke="#1c1c1c" stroke-width="1.1"/>
<text transform="translate(919.87 543.15) scale(0.8600 1)" font-family="DejaVu Sans, sans-serif" font-style="normal" font-weight="normal" font-size="12.20" fill="#1c1c1c" stroke="#1c1c1c" stroke-width="0.3">2.8</text>
<line x1="913.00" y1="616.00" x2="916.60" y2="616.00" stroke="#1c1c1c" stroke-width="1.1"/>
<text transform="translate(919.87 620.23) scale(0.8600 1)" font-family="DejaVu Sans, sans-serif" font-style="normal" font-weight="normal" font-size="12.20" fill="#1c1c1c" stroke="#1c1c1c" stroke-width="0.3">2.1</text>
<line x1="913.00" y1="692.80" x2="916.60" y2="692.80" stroke="#1c1c1c" stroke-width="1.1"/>
<text transform="translate(919.45 696.91) scale(0.8600 1)" font-family="DejaVu Sans, sans-serif" font-style="normal" font-weight="normal" font-size="12.20" fill="#1c1c1c" stroke="#1c1c1c" stroke-width="0.3">1.4</text>
<line x1="913.00" y1="769.80" x2="916.60" y2="769.80" stroke="#1c1c1c" stroke-width="1.1"/>
<text transform="translate(919.87 774.15) scale(0.8600 1)" font-family="DejaVu Sans, sans-serif" font-style="normal" font-weight="normal" font-size="12.20" fill="#1c1c1c" stroke="#1c1c1c" stroke-width="0.3">0.7</text>
<line x1="913.00" y1="846.50" x2="916.60" y2="846.50" stroke="#1c1c1c" stroke-width="1.1"/>
<text transform="translate(920.08 850.73) scale(0.8600 1)" font-family="DejaVu Sans, sans-serif" font-style="normal" font-weight="normal" font-size="12.20" fill="#1c1c1c" stroke="#1c1c1c" stroke-width="0.3">-2.2e-16</text>
<text transform="translate(979.80 755.80) rotate(-90) scale(1.1853 1)" font-family="DejaVu Sans, sans-serif" font-style="normal" font-size="10.80" fill="#1c1c1c" stroke="#1c1c1c" stroke-width="0.3">Transmission / 10</text>
<text transform="translate(976.10 643.98) rotate(-90) scale(1.0617 1)" font-family="DejaVu Sans, sans-serif" font-style="normal" font-size="9.20" fill="#1c1c1c" stroke="#1c1c1c" stroke-width="0.3">−5</text>
<rect x="232.00" y="891.50" width="590.60" height="46.30" fill="#ffffff" stroke="#111" stroke-width="1.4"/>
<text transform="translate(250.35 924.70) scale(0.9795 1)" font-family="Liberation Serif, serif" font-style="normal" font-weight="normal" font-size="35.85" fill="#000" stroke="#000" stroke-width="0.35">Energy: 0eV Transmission: 2.20585e</text>
<text transform="translate(771.25 911.20) scale(0.9793 1)" font-family="Liberation Serif, serif" font-style="normal" font-weight="normal" font-size="21.80" fill="#000" stroke="#000" stroke-width="0.35">-07</text>
<text transform="translate(520.63 969.02) scale(0.9930 1)" font-family="Liberation Serif, serif" font-style="normal" font-weight="normal" font-size="39.44" fill="#000" stroke="#000" stroke-width="0.35">(b)</text>
</g>
</svg></body></html>
